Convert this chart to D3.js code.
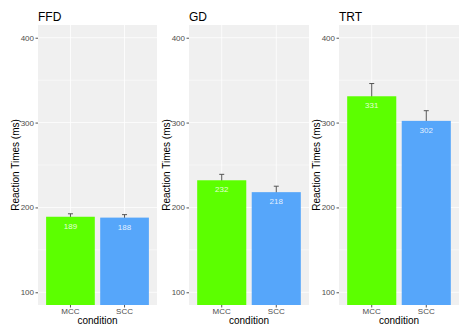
<!DOCTYPE html>
<html>
<head>
<meta charset="utf-8">
<script src="https://cdnjs.cloudflare.com/ajax/libs/d3/7.8.5/d3.min.js"></script>
<style>
  body { margin: 0; background: #fff; }
  text { font-family: "Liberation Sans", Arial, sans-serif; }
</style>
</head>
<body>
<div id="chart"></div>
<script>
// Data
var measures = ['FFD', 'GD', 'TRT'],
    conditions = ['MCC', 'SCC'],
    means = [[189, 188], [232, 218], [331, 302]],
    errors = [[3.5, 3.5], [7, 7], [15, 12]],
    yTicks = [100, 200, 300, 400],
    yMinor = [150, 250, 350];

var width = 474,
    height = 334,
    plotTop = 25,
    plotBottom = 305,
    // left / right edge of each panel
    panelX = [[38, 157], [189, 309], [339, 459]],
    colors = ['#5CFF00', '#56A6FA'];

var svg = d3.select('#chart').append('svg')
    .attr('width', width)
    .attr('height', height);

var y = d3.scaleLinear().domain([85, 415]).range([plotBottom, plotTop]);

measures.forEach(function(m, i) {
    var x = d3.scaleBand()
        .domain(conditions)
        .range(panelX[i])
        .paddingInner(0.1)
        .paddingOuter(0.15);

    var g = svg.append('g');
    var rows = conditions.map(function(c, j) {
        return { cond: c, mean: means[i][j], err: errors[i][j], color: colors[j] };
    });

    // panel background
    g.append('rect')
        .attr('x', panelX[i][0])
        .attr('y', plotTop)
        .attr('width', panelX[i][1] - panelX[i][0])
        .attr('height', plotBottom - plotTop)
        .attr('fill', '#F0F0F0');

    // grid lines
    g.selectAll('.minor').data(yMinor).enter().append('line')
        .attr('x1', panelX[i][0]).attr('x2', panelX[i][1])
        .attr('y1', function(d) { return y(d); })
        .attr('y2', function(d) { return y(d); })
        .attr('stroke', '#fff').attr('stroke-width', 0.5);
    g.selectAll('.major').data(yTicks).enter().append('line')
        .attr('x1', panelX[i][0]).attr('x2', panelX[i][1])
        .attr('y1', function(d) { return y(d); })
        .attr('y2', function(d) { return y(d); })
        .attr('stroke', '#fff').attr('stroke-width', 0.8);
    g.selectAll('.vgrid').data(conditions).enter().append('line')
        .attr('x1', function(d) { return x(d) + x.bandwidth() / 2; })
        .attr('x2', function(d) { return x(d) + x.bandwidth() / 2; })
        .attr('y1', plotTop).attr('y2', plotBottom)
        .attr('stroke', '#fff').attr('stroke-width', 0.8);

    // error bars go under the bars, so only the upper half shows
    var eb = g.selectAll('.err').data(rows).enter().append('g')
        .attr('stroke', '#555').attr('stroke-width', 1);
    eb.append('line')
        .attr('x1', function(d) { return x(d.cond) + x.bandwidth() / 2; })
        .attr('x2', function(d) { return x(d.cond) + x.bandwidth() / 2; })
        .attr('y1', function(d) { return y(d.mean - d.err); })
        .attr('y2', function(d) { return y(d.mean + d.err); });
    eb.append('line')
        .attr('x1', function(d) { return x(d.cond) + x.bandwidth() / 2 - 2.5; })
        .attr('x2', function(d) { return x(d.cond) + x.bandwidth() / 2 + 2.5; })
        .attr('y1', function(d) { return y(d.mean + d.err); })
        .attr('y2', function(d) { return y(d.mean + d.err); });

    g.selectAll('.bar').data(rows).enter().append('rect')
        .attr('x', function(d) { return x(d.cond); })
        .attr('y', function(d) { return y(d.mean); })
        .attr('width', x.bandwidth())
        .attr('height', function(d) { return plotBottom - y(d.mean); })
        .attr('fill', function(d) { return d.color; });

    g.selectAll('.val').data(rows).enter().append('text')
        .attr('x', function(d) { return x(d.cond) + x.bandwidth() / 2; })
        .attr('y', function(d) { return y(d.mean) + 12; })
        .attr('text-anchor', 'middle')
        .attr('font-size', 8)
        .attr('fill', '#fff')
        .attr('fill-opacity', 0.85)
        .text(function(d) { return d.mean; });

    // axes
    var yAxis = g.append('g')
        .attr('transform', 'translate(' + panelX[i][0] + ',0)')
        .call(d3.axisLeft(y).tickValues(yTicks).tickSize(2.5).tickPadding(1.5));
    yAxis.select('.domain').remove();
    yAxis.selectAll('line').attr('stroke', '#555');
    yAxis.selectAll('text').attr('font-size', 8).attr('fill', '#4D4D4D');

    var xAxis = g.append('g')
        .attr('transform', 'translate(0,' + plotBottom + ')')
        .call(d3.axisBottom(x).tickSize(2.5).tickPadding(1));
    xAxis.select('.domain').remove();
    xAxis.selectAll('line').attr('stroke', '#555');
    xAxis.selectAll('text').attr('font-size', 8).attr('fill', '#4D4D4D');

    g.append('text')
        .attr('x', (panelX[i][0] + panelX[i][1]) / 2)
        .attr('y', 324)
        .attr('text-anchor', 'middle')
        .attr('font-size', 10)
        .attr('fill', '#000')
        .text('condition');

    g.append('text')
        .attr('transform', 'translate(' + (panelX[i][0] - 19) + ',' + (plotTop + plotBottom) / 2 + ') rotate(-90)')
        .attr('text-anchor', 'middle')
        .attr('font-size', 10)
        .attr('fill', '#000')
        .text('Reaction Times (ms)');

    g.append('text')
        .attr('x', panelX[i][0])
        .attr('y', 21)
        .attr('font-size', 12)
        .attr('fill', '#000')
        .text(m);
});
</script>
</body>
</html>
